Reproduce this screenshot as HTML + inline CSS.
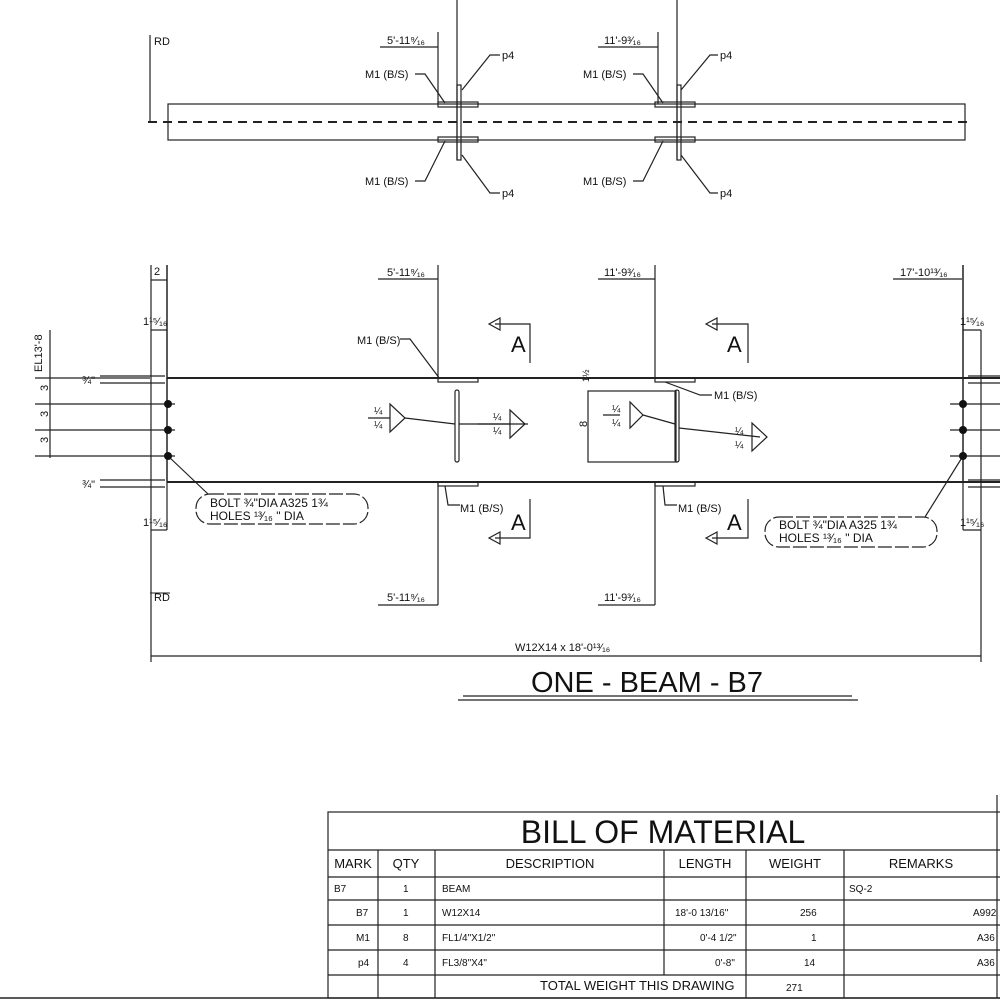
<!DOCTYPE html>
<html><head><meta charset="utf-8"><style>
html,body{margin:0;padding:0;background:#fff;}
svg{display:block;font-family:"Liberation Sans",sans-serif;}
text{fill:#111;}
.s{font-size:11px;}
</style></head><body>
<svg width="1000" height="1000" viewBox="0 0 1000 1000" xmlns="http://www.w3.org/2000/svg">
<g stroke="#222" stroke-width="1.2" fill="none">
<!-- TOP VIEW -->
<rect x="168" y="104" width="797" height="36"/>
<line x1="148" y1="122" x2="972" y2="122" stroke-dasharray="9,6" stroke-width="2"/>
<line x1="150" y1="35" x2="150" y2="122"/>
<line x1="457" y1="0" x2="457" y2="160"/>
<line x1="677" y1="0" x2="677" y2="160"/>
<line x1="438" y1="32" x2="438" y2="104"/>
<line x1="380" y1="47" x2="438" y2="47"/>
<line x1="658" y1="32" x2="658" y2="104"/>
<line x1="598" y1="47" x2="658" y2="47"/>
<rect x="457" y="85" width="4" height="75"/>
<rect x="677" y="85" width="4" height="75"/>
<rect x="438" y="102" width="40" height="5"/>
<rect x="438" y="137" width="40" height="5"/>
<rect x="655" y="102" width="40" height="5"/>
<rect x="655" y="137" width="40" height="5"/>
<polyline points="415,74 425,74 445,103"/>
<polyline points="462,90 490,55 500,55"/>
<polyline points="415,181 425,181 445,141"/>
<polyline points="462,155 490,193 500,193"/>
<polyline points="633,74 643,74 663,103"/>
<polyline points="681,90 710,55 718,55"/>
<polyline points="633,181 643,181 663,141"/>
<polyline points="681,155 710,193 718,193"/>

<!-- MAIN VIEW -->
<line x1="167" y1="378" x2="1000" y2="378" stroke-width="2"/>
<line x1="167" y1="482" x2="1000" y2="482" stroke-width="2"/>
<line x1="151" y1="265" x2="151" y2="662"/>
<line x1="167" y1="265" x2="167" y2="378" stroke-width="1.5"/>
<line x1="167" y1="378" x2="167" y2="482" stroke-width="1.5"/>
<line x1="167" y1="482" x2="167" y2="530"/>
<line x1="100" y1="376" x2="165" y2="376"/><line x1="100" y1="383" x2="165" y2="383"/>
<line x1="100" y1="480" x2="165" y2="480"/><line x1="100" y1="487" x2="165" y2="487"/>
<line x1="35" y1="378" x2="150" y2="378"/>
<line x1="35" y1="404" x2="175" y2="404"/>
<line x1="35" y1="430" x2="175" y2="430"/>
<line x1="35" y1="456" x2="175" y2="456"/>
<line x1="50" y1="330" x2="50" y2="458"/>
<line x1="151" y1="280" x2="167" y2="280"/>
<line x1="151" y1="330" x2="167" y2="330"/>
<line x1="151" y1="530" x2="167" y2="530"/>
<!-- right end -->
<line x1="963" y1="265" x2="963" y2="482" stroke-width="1.5"/>
<line x1="963" y1="482" x2="963" y2="530"/>
<line x1="981" y1="330" x2="981" y2="662"/>
<line x1="963" y1="330" x2="981" y2="330"/>
<line x1="963" y1="530" x2="981" y2="530"/>
<line x1="950" y1="404" x2="1000" y2="404"/>
<line x1="950" y1="430" x2="1000" y2="430"/>
<line x1="950" y1="456" x2="1000" y2="456"/>
<line x1="968" y1="376" x2="1000" y2="376"/><line x1="968" y1="383" x2="1000" y2="383"/>
<line x1="968" y1="480" x2="1000" y2="480"/><line x1="968" y1="487" x2="1000" y2="487"/>
<line x1="893" y1="279" x2="962" y2="279"/>
<!-- stiffener dims -->
<line x1="438" y1="265" x2="438" y2="378"/>
<line x1="438" y1="482" x2="438" y2="605"/>
<line x1="655" y1="265" x2="655" y2="378"/>
<line x1="655" y1="482" x2="655" y2="605"/>
<line x1="378" y1="279" x2="438" y2="279"/>
<line x1="598" y1="279" x2="655" y2="279"/>
<line x1="378" y1="605" x2="438" y2="605"/>
<line x1="598" y1="605" x2="655" y2="605"/>
<rect x="455" y="390" width="4" height="72" rx="2"/>
<rect x="675" y="390" width="4" height="72" rx="2"/>
<rect x="438" y="378" width="40" height="4"/>
<rect x="438" y="482" width="40" height="4"/>
<rect x="655" y="378" width="40" height="4"/>
<rect x="655" y="482" width="40" height="4"/>
<rect x="588" y="391" width="88" height="71"/>
<polyline points="400,339 410,339 440,379"/>
<polyline points="445,486 448,505 460,505"/>
<polyline points="665,382 700,395 712,395"/>
<polyline points="663,486 665,505 677,505"/>
<!-- weld symbols -->
<line x1="368" y1="418" x2="390" y2="418"/><path d="M390,404 L390,432 L405,418 Z"/>
<line x1="405" y1="418" x2="455" y2="424"/>
<line x1="478" y1="424" x2="528" y2="424"/><path d="M510,410 L510,438 L525,424 Z"/>
<line x1="459" y1="424" x2="510" y2="424"/>
<line x1="603" y1="415" x2="620" y2="415"/><path d="M630,402 L630,428 L643,415 Z"/>
<line x1="643" y1="415" x2="675" y2="424"/>
<line x1="679" y1="428" x2="760" y2="437"/><path d="M752,423 L752,451 L767,437 Z"/>
<!-- section marks -->
<polyline points="495,324 530,324 530,363"/><path d="M489,324 L500,318 L500,330 Z"/>
<polyline points="712,324 748,324 748,363"/><path d="M706,324 L717,318 L717,330 Z"/>
<polyline points="495,538 530,538 530,499"/><path d="M489,538 L500,532 L500,544 Z"/>
<polyline points="712,538 748,538 748,499"/><path d="M706,538 L717,532 L717,544 Z"/>
<!-- callouts -->
<rect x="196" y="494" width="172" height="30" rx="14" stroke-dasharray="14,3"/>
<line x1="168" y1="456" x2="208" y2="494"/>
<rect x="765" y="517" width="172" height="30" rx="14" stroke-dasharray="14,3"/>
<line x1="963" y1="456" x2="925" y2="517"/>
<!-- overall dim -->
<line x1="151" y1="656" x2="981" y2="656"/>
<line x1="150" y1="593" x2="170" y2="593" stroke-width="1"/>
<line x1="463" y1="696" x2="852" y2="696"/>
<line x1="458" y1="700" x2="858" y2="700"/>
<!-- TABLE -->
<rect x="328" y="812" width="675" height="186"/>
<line x1="328" y1="850" x2="1000" y2="850"/>
<line x1="328" y1="877" x2="1000" y2="877"/>
<line x1="328" y1="900" x2="1000" y2="900"/>
<line x1="328" y1="925" x2="1000" y2="925"/>
<line x1="328" y1="950" x2="1000" y2="950"/>
<line x1="328" y1="975" x2="1000" y2="975"/>
<line x1="378" y1="850" x2="378" y2="998"/>
<line x1="435" y1="850" x2="435" y2="998"/>
<line x1="664" y1="850" x2="664" y2="975"/>
<line x1="746" y1="850" x2="746" y2="998"/>
<line x1="844" y1="850" x2="844" y2="998"/>
<line x1="997" y1="795" x2="997" y2="998"/>
<line x1="0" y1="998" x2="1000" y2="998" stroke-width="1.5"/>
</g>
<g fill="#111">
<circle cx="168" cy="404" r="4"/><circle cx="168" cy="430" r="4"/><circle cx="168" cy="456" r="4"/>
<circle cx="963" cy="404" r="4"/><circle cx="963" cy="430" r="4"/><circle cx="963" cy="456" r="4"/>
</g>
<g class="s">
<text x="154" y="45">RD</text>
<text x="387" y="44">5'-11⁹⁄₁₆</text>
<text x="604" y="44">11'-9³⁄₁₆</text>
<text x="365" y="78">M1 (B/S)</text>
<text x="583" y="78">M1 (B/S)</text>
<text x="502" y="59">p4</text>
<text x="720" y="59">p4</text>
<text x="365" y="185">M1 (B/S)</text>
<text x="583" y="185">M1 (B/S)</text>
<text x="502" y="197">p4</text>
<text x="720" y="197">p4</text>
<text x="154" y="275">2</text>
<text x="387" y="276">5'-11⁹⁄₁₆</text>
<text x="604" y="276">11'-9³⁄₁₆</text>
<text x="900" y="276">17'-10¹³⁄₁₆</text>
<text x="143" y="325">1¹⁵⁄₁₆</text>
<text x="960" y="325">1¹⁵⁄₁₆</text>
<text x="143" y="526">1¹⁵⁄₁₆</text>
<text x="960" y="526">1¹⁵⁄₁₆</text>
<text x="357" y="344">M1 (B/S)</text>
<text x="714" y="399">M1 (B/S)</text>
<text x="460" y="512">M1 (B/S)</text>
<text x="678" y="512">M1 (B/S)</text>
<text x="154" y="601">RD</text>
<text x="387" y="601">5'-11⁹⁄₁₆</text>
<text x="604" y="601">11'-9³⁄₁₆</text>
<text x="42" y="372" transform="rotate(-90 42 372)">EL13'-8</text>
<text x="44" y="395" transform="rotate(-90 44 391)">3</text>
<text x="44" y="421" transform="rotate(-90 44 417)">3</text>
<text x="44" y="447" transform="rotate(-90 44 443)">3</text>
<text x="82" y="384">¾"</text><text x="82" y="488">¾"</text>
<text x="374" y="414" font-size="10">¼</text><text x="374" y="428" font-size="10">¼</text>
<text x="493" y="420" font-size="10">¼</text><text x="493" y="434" font-size="10">¼</text>
<text x="612" y="412" font-size="10">¼</text><text x="612" y="426" font-size="10">¼</text>
<text x="735" y="434" font-size="10">¼</text><text x="735" y="448" font-size="10">¼</text>
<text x="583" y="431" transform="rotate(-90 583 427)">8</text>
<text x="585" y="386" font-size="9" transform="rotate(-90 585 382)">1½</text>
<text x="210" y="507" font-size="12">BOLT ¾"DIA A325 1¾</text>
<text x="210" y="520" font-size="12">HOLES ¹³⁄₁₆ " DIA</text>
<text x="779" y="529" font-size="12">BOLT ¾"DIA A325 1¾</text>
<text x="779" y="542" font-size="12">HOLES ¹³⁄₁₆ " DIA</text>
<text x="515" y="651">W12X14 x 18'-0¹³⁄₁₆</text>
</g>
<g font-size="22">
<text x="511" y="352">A</text><text x="727" y="352">A</text>
<text x="511" y="530">A</text><text x="727" y="530">A</text>
</g>
<text x="647" y="692" font-size="29" text-anchor="middle">ONE - BEAM - B7</text>
<text x="663" y="843" font-size="32" text-anchor="middle">BILL OF MATERIAL</text>
<g font-size="13" text-anchor="middle">
<text x="353" y="868">MARK</text><text x="406" y="868">QTY</text><text x="550" y="868">DESCRIPTION</text>
<text x="705" y="868">LENGTH</text><text x="795" y="868">WEIGHT</text><text x="921" y="868">REMARKS</text>
</g>
<g font-size="10">
<text x="334" y="892">B7</text><text x="403" y="892">1</text><text x="442" y="892">BEAM</text><text x="849" y="892">SQ-2</text>
<text x="356" y="916">B7</text><text x="403" y="916">1</text><text x="442" y="916">W12X14</text><text x="675" y="916">18'-0 13/16"</text><text x="800" y="916">256</text><text x="973" y="916">A992</text>
<text x="356" y="941">M1</text><text x="403" y="941">8</text><text x="442" y="941">FL1/4"X1/2"</text><text x="700" y="941">0'-4 1/2"</text><text x="811" y="941">1</text><text x="977" y="941">A36</text>
<text x="358" y="966">p4</text><text x="403" y="966">4</text><text x="442" y="966">FL3/8"X4"</text><text x="715" y="966">0'-8"</text><text x="804" y="966">14</text><text x="977" y="966">A36</text>
</g>
<text x="540" y="990" font-size="13">TOTAL WEIGHT THIS DRAWING</text>
<text x="786" y="991" font-size="10">271</text>
</svg>
</body></html>
